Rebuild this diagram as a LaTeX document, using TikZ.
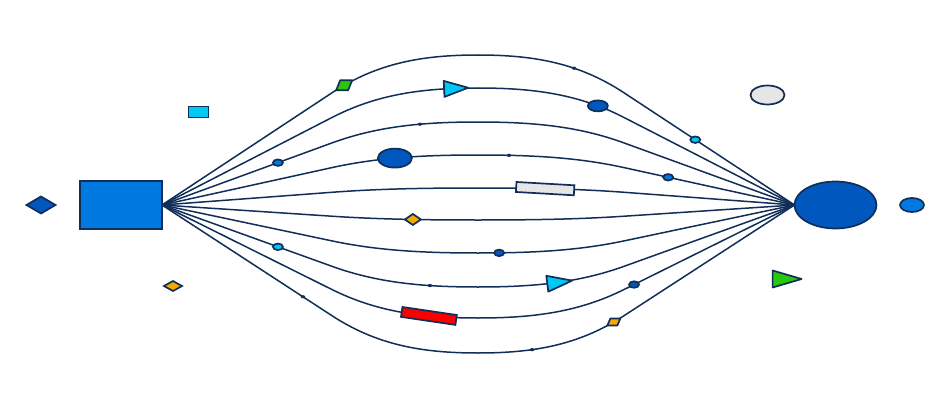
\documentclass[tikz,border=0pt]{standalone}
\usetikzlibrary{shapes.geometric}
\definecolor{navy}{RGB}{16,46,88}
\definecolor{dblue}{RGB}{0,88,190}
\definecolor{mblue}{RGB}{0,122,224}
\definecolor{cyanc}{RGB}{0,200,245}
\definecolor{greenc}{RGB}{40,200,10}
\definecolor{orangec}{RGB}{245,170,0}
\definecolor{redc}{RGB}{250,0,0}
\definecolor{lgray}{RGB}{230,230,230}
\tikzset{
  curve/.style={draw=navy, line width=1.5pt},
  shp/.style={draw=navy, line width=1.7pt, inner sep=0pt, outer sep=0pt},
  mk/.style={shp, sloped},
  tinydot/.style={ellipse, fill=navy, minimum width=4.5pt, minimum height=3.2pt, inner sep=0pt},
  smalldot/.style={shp, ellipse, minimum width=10pt, minimum height=6.5pt},
  tri/.style={isosceles triangle, isosceles triangle stretches, shape border rotate=0, line join=round},
  parafill/.style={draw=navy, line width=1.7pt, line join=round},
}
\newcommand\fancurve[5]{%
  \draw[curve] (src.east) -- (332,{205+0.748*(#1)}) #2
    .. controls (377,{205+0.946*(#1)}) and (422,{205+(#1)}) .. (478,{205+(#1)}) #3
    .. controls (534,{205+(#1)}) and (579,{205+0.946*(#1)}) .. (624,{205+0.748*(#1)}) #4
    -- (dst.west) #5;}
% parallelogram at a named coordinate: #1 name, #2 half width of edge, #3 half height, #4 slant, #5 colour
\newcommand\paramark[5]{%
  \filldraw[parafill, fill=#5]
    ([shift={({-#2-#4},#3)}]#1) -- ([shift={({#2-#4},#3)}]#1) --
    ([shift={({#2+#4},-#3)}]#1) -- ([shift={({-#2+#4},-#3)}]#1) -- cycle;}
\begin{document}
\begin{tikzpicture}[x=1pt,y=-1pt]
\useasboundingbox (0,0) rectangle (948,404);
% main shapes
\node[shp, rectangle, fill=mblue, minimum width=82pt, minimum height=48pt] (src) at (121,205) {};
\node[shp, ellipse, fill=dblue, minimum width=82pt, minimum height=47pt] (dst) at (835.5,205) {};
% free shapes
\node[shp, diamond, fill=dblue, minimum width=29pt, minimum height=17pt] (f1) at (41,205) {};
\node[shp, rectangle, fill=cyanc, minimum width=20pt, minimum height=11pt] (f2) at (198.5,112) {};
\node[shp, diamond, fill=orangec, minimum width=18pt, minimum height=10pt] (f3) at (173,286) {};
\node[shp, ellipse, fill=lgray, minimum width=34pt, minimum height=19pt] (f4) at (767.5,95) {};
\node[shp, ellipse, fill=mblue, minimum width=24pt, minimum height=14pt] (f5) at (912,205) {};
\node[shp, tri, fill=greenc, minimum width=17pt, minimum height=29pt] (f6) at (779,279) {};
% curves
\fancurve{-150}{}
  {coordinate[pos=0.09] (c1a)}
  {node[tinydot, pos=0.634] (c1b) {}}
  {node[smalldot, fill=cyanc, pos=0.418] (c1c) {}}
\paramark{c1a}{6}{5}{2}{greenc}
\fancurve{-117}{}
  {node[mk, tri, fill=cyanc, minimum width=16pt, minimum height=24pt, pos=0.827] (c2a) {}}
  {node[shp, ellipse, fill=dblue, minimum width=20pt, minimum height=11pt, pos=0.807] (c2b) {}}
  {}
\fancurve{-83}
  {node[smalldot, fill=mblue, pos=0.682] (c3a) {}}
  {node[tinydot, pos=0.631] (c3b) {}}
  {}{}
\fancurve{-50}{}
  {node[shp, ellipse, fill=dblue, minimum width=34pt, minimum height=19pt, pos=0.458] (c4a) {}}
  {node[tinydot, pos=0.191] (c4b) {}}
  {node[smalldot, fill=mblue, pos=0.259] (c4c) {}}
\fancurve{-17}{}{}
  {node[mk, rectangle, fill=lgray, minimum width=58pt, minimum height=10pt, rotate=-2, pos=0.431] (c5a) {}}
  {}
\fancurve{15}{}
  {node[shp, diamond, fill=orangec, minimum width=16pt, minimum height=11pt, pos=0.583] (c6a) {}}
  {}{}
\fancurve{48}{}{}
  {node[smalldot, fill=dblue, pos=0.129] (c7a) {}}
  {}
\fancurve{82}
  {node[smalldot, fill=cyanc, pos=0.682] (c8a) {}}
  {node[tinydot, pos=0.698] (c8b) {}}
  {node[mk, tri, fill=cyanc, minimum width=16pt, minimum height=25pt, pos=0.486] (c8c) {}}
  {}
\fancurve{113}{}
  {node[mk, rectangle, fill=redc, minimum width=55pt, minimum height=10pt, rotate=-3, pos=0.691] (c9a) {}}
  {}
  {node[smalldot, fill=dblue, pos=0.059] (c9b) {}}
\fancurve{148}
  {node[tinydot, pos=0.829] (c10a) {}}
  {}
  {node[tinydot, pos=0.342] (c10b) {} coordinate[pos=0.925] (c10c)}
  {}
\paramark{c10c}{5}{3.5}{1.5}{orangec}
\end{tikzpicture}
\end{document}
